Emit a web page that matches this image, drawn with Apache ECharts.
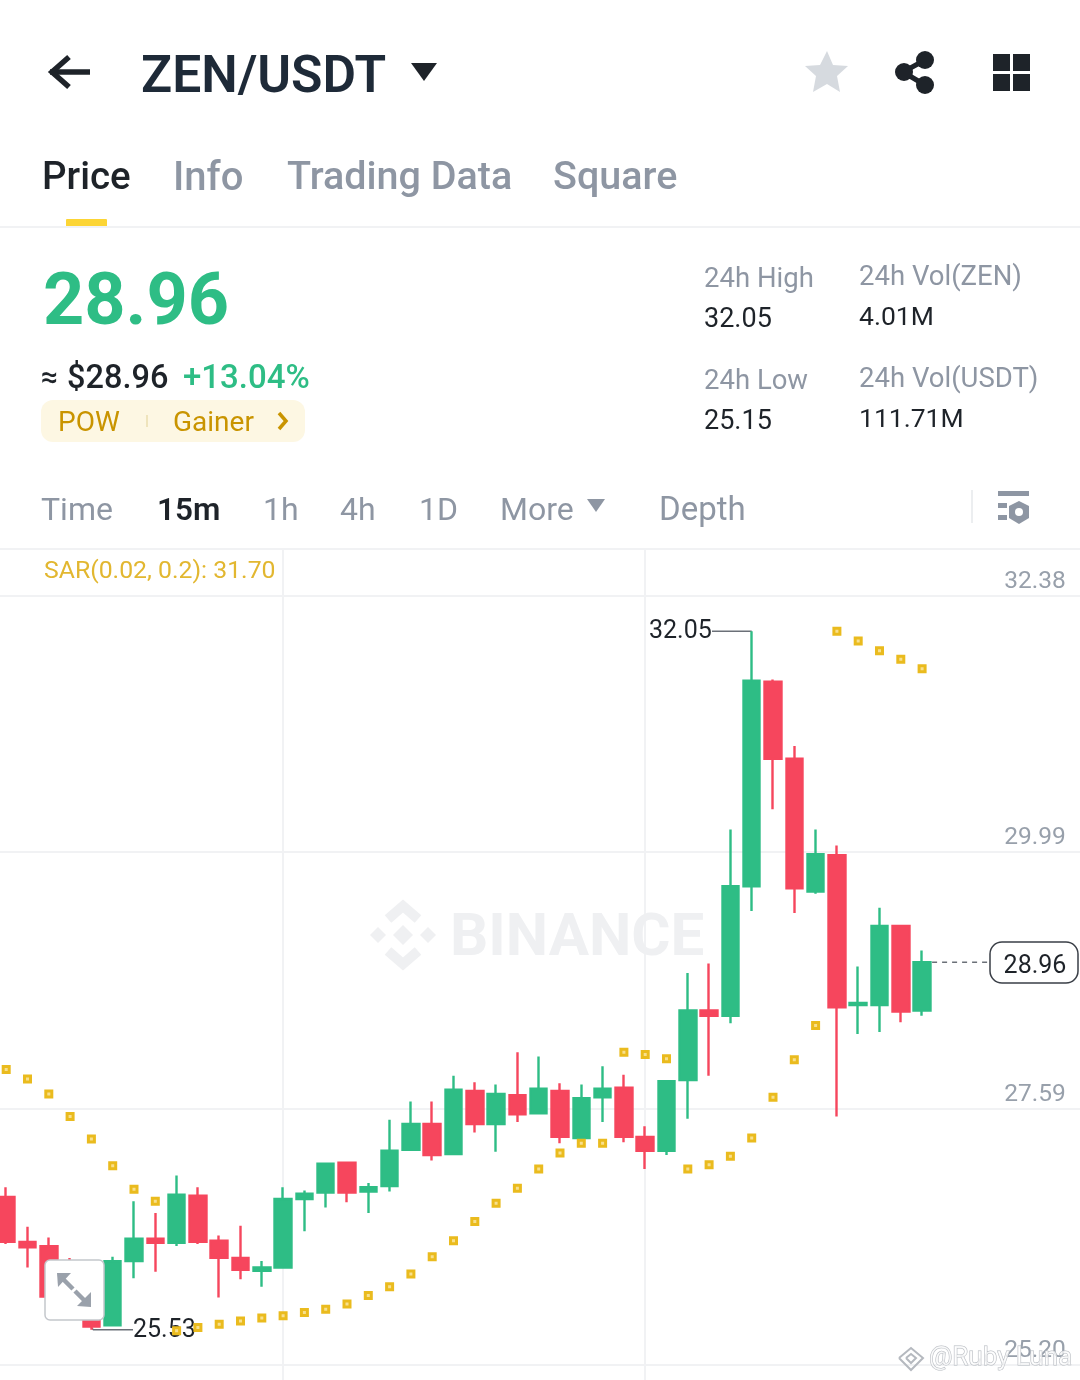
<!DOCTYPE html>
<html>
<head>
<meta charset="utf-8">
<title>ZEN/USDT</title>
<script src="https://cdn.jsdelivr.net/npm/echarts@6/dist/echarts.min.js"></script>
<style>
  html, body { margin: 0; padding: 0; background: #fff; }
  #main { width: 1080px; height: 1380px; }
</style>
</head>
<body>
<div id="main"></div>
<script>
// candles: [open, close, low, high]
const candles = [
  [26.77, 26.35, 26.33, 26.86], [26.35, 26.30, 26.11, 26.49], [26.31, 25.84, 25.84, 26.39], [25.84, 25.71, 25.66, 26.20],
  [25.71, 25.56, 25.53, 25.76], [25.57, 26.17, 25.56, 26.21], [26.17, 26.38, 26.01, 26.73], [26.38, 26.34, 26.07, 26.62],
  [26.34, 26.79, 26.31, 26.97], [26.78, 26.35, 26.33, 26.86], [26.36, 26.20, 25.83, 26.41], [26.20, 26.09, 26.00, 26.50],
  [26.08, 26.11, 25.93, 26.17], [26.11, 26.75, 26.11, 26.86], [26.75, 26.80, 26.45, 26.83], [26.81, 27.08, 26.67, 27.09],
  [27.09, 26.81, 26.72, 27.10], [26.82, 26.86, 26.62, 26.90], [26.87, 27.20, 26.82, 27.49], [27.21, 27.45, 27.21, 27.66],
  [27.45, 27.16, 27.11, 27.66], [27.17, 27.77, 27.16, 27.90], [27.76, 27.45, 27.37, 27.84], [27.45, 27.73, 27.19, 27.82],
  [27.72, 27.54, 27.47, 28.12], [27.55, 27.78, 27.54, 28.08], [27.76, 27.33, 27.27, 27.83], [27.32, 27.69, 27.30, 27.82],
  [27.70, 27.78, 27.47, 27.99], [27.79, 27.33, 27.28, 27.91], [27.33, 27.20, 27.03, 27.43], [27.20, 27.85, 27.16, 27.85],
  [27.86, 28.51, 27.50, 28.86], [28.51, 28.46, 27.90, 28.95], [28.46, 29.67, 28.39, 30.20], [29.67, 31.59, 29.44, 32.05],
  [31.58, 30.86, 30.39, 31.60], [30.86, 29.65, 29.42, 30.98], [29.62, 29.97, 29.60, 30.20], [29.96, 28.54, 27.52, 30.05],
  [28.56, 28.58, 28.29, 28.92], [28.56, 29.30, 28.31, 29.47], [29.30, 28.50, 28.40, 29.31], [28.51, 28.96, 28.46, 29.07]
];
// SAR(0.02, 0.2), one dot per candle
const sar = [
  27.96, 27.87, 27.73, 27.52, 27.31, 27.06, 26.84, 26.73,
  25.52, 25.55, 25.58, 25.61, 25.64, 25.66, 25.69, 25.72, 25.77, 25.85, 25.93, 26.05,
  26.21, 26.36, 26.54, 26.71, 26.85, 27.03, 27.18, 27.27, 27.27,
  28.12, 28.10, 28.06,
  27.03, 27.07, 27.15, 27.32, 27.70, 28.05, 28.37,
  32.05, 31.96, 31.87, 31.79, 31.70
];
const priceTicks = [25.20, 27.59, 29.99, 32.38];
const timeLines = [13, 30];
const lastPrice = 28.96;
const highPoint = [35, 32.05];
const lowPoint = [4, 25.53];
// empty bands to the right of the last candle
const categories = candles.map((c, i) => String(i)).concat(['', '', '', '', '', '', '']);

const GREEN = '#2EBD85', RED = '#F6465D', DARK = '#1E2329', GRAY = '#8E96A3', LINE = '#F1F2F4';
const FONT = 'Roboto';

function txt(x, y, text, size, fill, weight, align, z) {
  // roboto sits high in its em box, nudge so y is the middle of the caps
  return {
    type: 'text', x: x, y: y + size * 0.09, z: z === undefined ? 20 : z, silent: true,
    style: { text: text, fontFamily: FONT, fontSize: size, fontWeight: weight || 400, fill: fill, align: align || 'left', verticalAlign: 'middle' }
  };
}
function rect(x, y, w, h, fill, r, z) {
  return { type: 'rect', z: z === undefined ? 20 : z, silent: true, shape: { x: x, y: y, width: w, height: h, r: r || 0 }, style: { fill: fill } };
}
function poly(points, fill, z) {
  return { type: 'polygon', z: z === undefined ? 20 : z, silent: true, shape: { points: points }, style: { fill: fill } };
}
function lineOf(points, stroke, width, z) {
  return { type: 'polyline', z: z === undefined ? 20 : z, silent: true, shape: { points: points }, style: { stroke: stroke, lineWidth: width, fill: null, lineCap: 'butt' } };
}
function dot(x, y, r, fill) {
  return { type: 'circle', z: 20, silent: true, shape: { cx: x, cy: y, r: r }, style: { fill: fill } };
}

const chart = echarts.init(document.getElementById('main'));
chart.setOption({
  animation: false,
  backgroundColor: '#fff',
  grid: { left: -4.45, top: 549, width: 1086.3, bottom: 0, outerBoundsMode: 'none' },
  xAxis: {
    type: 'category', data: categories, boundaryGap: true,
    axisLine: { show: false }, axisTick: { show: false }, axisLabel: { show: false }, splitLine: { show: false }
  },
  yAxis: {
    type: 'value', position: 'right', min: 25.06, max: 32.819, scale: true,
    axisLine: { show: false },
    axisTick: { show: false, customValues: priceTicks },
    axisLabel: {
      inside: true, margin: 16, customValues: priceTicks, color: '#98A0AB', fontFamily: FONT, fontSize: 24.5,
      verticalAlign: 'bottom', lineHeight: 28, formatter: v => v.toFixed(2)
    },
    splitLine: { show: true, lineStyle: { color: LINE, width: 2 } }
  },
  series: [
    {
      type: 'candlestick', data: candles, barWidth: 17, z: 3,
      itemStyle: { color: GREEN, color0: RED, borderColor: GREEN, borderColor0: RED, borderWidth: 2.4 }
    },
    {
      type: 'scatter', data: sar, symbol: 'rect', symbolSize: 6, z: 4,
      itemStyle: { color: '#F8E08E', borderColor: '#EABB1E', borderWidth: 3, opacity: 1 }
    },
    {
      type: 'line', data: [], z: 1,
      markLine: {
        z: 1, silent: true, symbol: 'none', label: { show: false },
        lineStyle: { color: LINE, width: 2, type: 'solid' },
        data: timeLines.map(i => ({ xAxis: i }))
      }
    }
  ]
});

const hi = chart.convertToPixel({ seriesIndex: 0 }, highPoint);
const lo = chart.convertToPixel({ seriesIndex: 0 }, lowPoint);
const last = chart.convertToPixel({ seriesIndex: 0 }, [candles.length - 1, lastPrice]);

const elements = [
  // header
  lineOf([[50, 72], [90, 72]], '#1E2329', 5.5),
  lineOf([[69, 57], [52, 72], [69, 87]], '#1E2329', 5.5),
  txt(141, 74, 'ZEN/USDT', 51.5, '#1E2A38', 600),
  poly([[411, 63], [437, 63], [424, 81]], '#1E2329'),
  poly([[827, 51], [833, 65], [848, 66], [837, 76], [840, 92], [827, 84], [813, 92], [816, 76], [805, 66], [820, 65]], '#D6DADF'),
  lineOf([[925, 60], [903, 72], [925, 85]], '#1E2329', 5),
  dot(925, 60, 9, '#1E2329'), dot(904, 72, 9, '#1E2329'), dot(925, 85, 9, '#1E2329'),
  rect(993, 54, 17, 17, '#1E2329'), rect(1013, 54, 17, 17, '#1E2329'),
  rect(993, 74, 17, 17, '#1E2329'), rect(1013, 74, 17, 17, '#1E2329'),
  // tabs
  txt(42, 176, 'Price', 38.5, DARK, 500),
  txt(173, 176, 'Info', 40, GRAY, 500),
  txt(287, 176, 'Trading Data', 39.5, GRAY, 500),
  txt(553, 176, 'Square', 39.5, GRAY, 500),
  rect(66, 219, 41, 8, '#FCD535', 1),
  rect(0, 226, 1080, 2, LINE),
  // price block
  txt(43, 300, '28.96', 72, GREEN, 700),
  txt(41, 377, '≈', 30, DARK, 500),
  txt(67, 377, '$28.96', 32.5, DARK, 500),
  txt(183, 377, '+13.04%', 33, GREEN, 500),
  rect(41, 400, 264, 42, '#FDF7E3', 12),
  txt(58, 421, 'POW', 28, '#C99400'),
  rect(146, 415, 2, 12, '#EFE4BC'),
  txt(173, 421, 'Gainer', 28, '#C99400'),
  lineOf([[279, 413], [286, 421], [279, 429]], '#C99400', 3.5),
  // 24h stats
  txt(704, 278, '24h High', 27.5, GRAY),
  txt(704, 318, '32.05', 27, DARK),
  txt(859, 276, '24h Vol(ZEN)', 27.5, GRAY),
  txt(859, 316, '4.01M', 26.5, DARK),
  txt(704, 380, '24h Low', 27.5, GRAY),
  txt(704, 420, '25.15', 27, DARK),
  txt(859, 378, '24h Vol(USDT)', 27.5, GRAY),
  txt(859, 418, '111.71M', 26.5, DARK),
  // interval row
  txt(41, 509, 'Time', 32, GRAY),
  txt(157, 509, '15m', 31.5, DARK, 600),
  txt(263, 509, '1h', 32, GRAY),
  txt(340, 509, '4h', 32, GRAY),
  txt(419, 509, '1D', 32, GRAY),
  txt(500, 509, 'More', 32, GRAY),
  poly([[587, 499], [605, 499], [596, 512]], GRAY),
  txt(659, 509, 'Depth', 33, GRAY),
  rect(971, 490, 2, 33, '#ECEEF0'),
  rect(998, 491, 31, 5, GRAY), rect(998, 503, 9, 5, GRAY), rect(998, 515, 9, 5, GRAY),
  poly([[1019, 501], [1029, 506], [1029, 518], [1019, 524], [1009, 518], [1009, 506]], GRAY),
  dot(1019, 512, 4, '#fff'),
  // section border and indicator readout
  rect(0, 548, 1080, 2, LINE),
  txt(44, 570, 'SAR(0.02, 0.2): 31.70', 24.8, '#E2B730'),
  // BINANCE watermark, under the candles
  poly([[403, 925], [413, 935], [403, 945], [393, 935]], '#EFF0F2', 1),
  poly([[378, 927], [386, 935], [378, 943], [370, 935]], '#EFF0F2', 1),
  poly([[428, 927], [436, 935], [428, 943], [420, 935]], '#EFF0F2', 1),
  lineOf([[388, 919], [403, 906], [418, 919]], '#EFF0F2', 10, 1),
  lineOf([[388, 951], [403, 964], [418, 951]], '#EFF0F2', 10, 1),
  txt(450, 935, 'BINANCE', 60, '#EFF0F2', 700, 'left', 1),
  // high, low and last price tags
  lineOf([[hi[0], hi[1]], [712, hi[1]]], '#6B7078', 1.5, 2),
  txt(649, hi[1] - 2, '32.05', 25, DARK, 400, 'left', 2),
  lineOf([[lo[0], lo[1] - 2], [lo[0] + 2, lo[1]], [133, lo[1]]], '#6B7078', 1.5, 2),
  txt(133, lo[1] - 1, '25.53', 25, DARK, 400, 'left', 2),
  {
    type: 'line', z: 2, silent: true,
    shape: { x1: last[0] + 10, y1: last[1], x2: 990, y2: last[1] },
    style: { stroke: '#6B7078', lineWidth: 1.5, lineDash: [5, 5] }
  },
  {
    type: 'rect', z: 20, silent: true,
    shape: { x: 990, y: 942, width: 88, height: 41, r: 12 },
    style: { fill: '#fff', stroke: '#3A3F47', lineWidth: 1.5 }
  },
  txt(1035, 964, '28.96', 25, DARK, 400, 'center'),
  // expand button over the candles
  {
    type: 'rect', z: 20, silent: true,
    shape: { x: 45, y: 1260, width: 59, height: 60, r: 5 },
    style: { fill: '#fff', stroke: '#C4C7CC', lineWidth: 1.5 }
  },
  poly([[57, 1273], [71, 1273], [58, 1287]], '#9AA1AB'),
  poly([[91, 1307], [77, 1306], [91, 1292]], '#9AA1AB'),
  lineOf([[62, 1278], [73, 1289]], '#9AA1AB', 4.5),
  lineOf([[75, 1291], [86, 1302]], '#9AA1AB', 4.5),
  // repost credit at the bottom right
  {
    type: 'text', x: 929, y: 1358, z: 30, silent: true,
    style: { text: '@Ruby Luna', fontFamily: FONT, fontSize: 26, fill: 'rgba(255,255,255,0.75)', stroke: '#B5B9BF', lineWidth: 1, verticalAlign: 'middle' }
  },
  lineOf([[899, 1358], [911, 1348], [923, 1358], [911, 1370], [899, 1358]], '#B5B9BF', 2, 30),
  lineOf([[906, 1358], [911, 1354], [916, 1358], [911, 1363], [906, 1358]], '#B5B9BF', 2, 30)
];
chart.setOption({ graphic: { elements: elements } });
</script>
</body>
</html>
